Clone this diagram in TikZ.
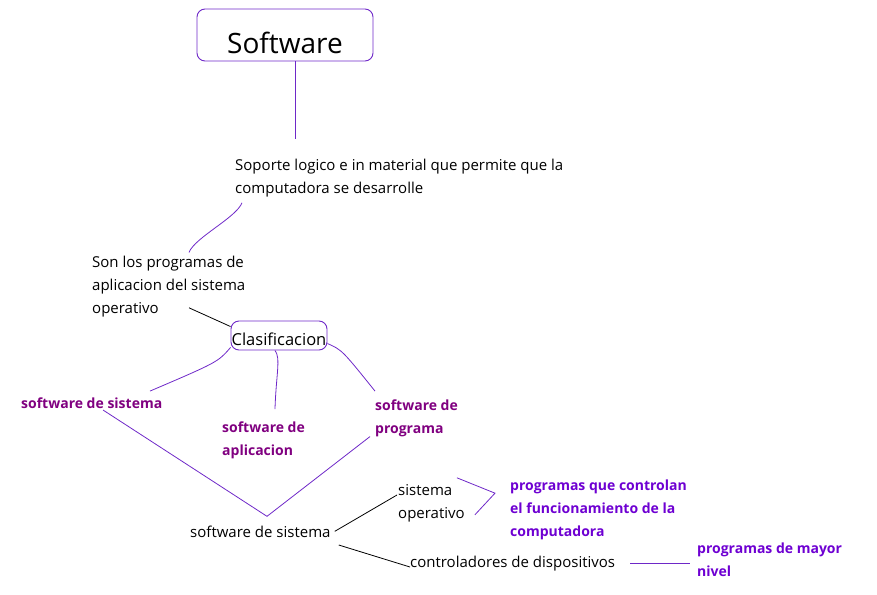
\documentclass[tikz,border=0pt]{standalone}
\usepackage{fontspec}
\setmainfont{Open Sans}
\definecolor{lila}{RGB}{110,40,200}
\definecolor{morado}{RGB}{128,0,128}
\definecolor{violeta}{RGB}{110,0,210}
\begin{document}
\begin{tikzpicture}[x=1pt,y=-1pt,
    caja/.style={draw=lila,line width=0.9pt,rounded corners=8pt,inner sep=0pt},
    texto/.style={anchor=base west,inner sep=0pt,align=left,font=\fontsize{15}{23}\selectfont},
    clase/.style={texto,text=morado,font=\fontsize{14}{23}\selectfont\bfseries},
    nota/.style={texto,text=violeta,font=\fontsize{14}{23}\selectfont\bfseries},
    enlace/.style={draw=lila,line width=0.8pt},
    raya/.style={draw=black,line width=0.8pt}]
        \useasboundingbox (0,0) rectangle (877,594);
        %cajas
        \node[caja,minimum width=176pt,minimum height=52pt,text height=40pt,text depth=2pt,font=\fontsize{28}{28}\selectfont] (sw) at (285,35) {Software};
        \node[caja,minimum width=96pt,minimum height=29pt,text height=21pt,text depth=2pt,font=\fontsize{16.5}{16}\selectfont] (clas) at (279,335.5) {Clasificacion};
        
        %textos (base = ultima linea)
        \node[texto] (soporte) at (235,193) {Soporte logico e in material que permite que la\\computadora se desarrolle};
        \node[texto] (son) at (92,313) {Son los programas de\\aplicacion del sistema\\operativo};
        \node[clase] (sist) at (21,408) {software de sistema};
        \node[clase] (apli) at (222,455) {software de\\aplicacion};
        \node[clase] (prog) at (375,433) {software de\\programa};
        \node[texto] (sis2) at (190,537) {software de sistema};
        \node[texto] (so) at (398,518) {sistema\\operativo};
        \node[texto] (ctrl) at (410,567) {controladores de dispositivos};
        \node[nota] (desc) at (510,536) {programas que controlan\\el funcionamiento de la\\computadora};
        \node[nota] (mayor) at (697,576) {programas de mayor\\nivel};
        
        %lineas
        \draw[enlace] ([xshift=10pt]sw.south) -- ++(0,78);
        \draw[enlace] ([xshift=7pt,yshift=-6pt]soporte.south west) .. controls +(-6,15) and +(6,-15) .. ([xshift=97pt,yshift=3pt]son.north west);
        \draw[raya] ([xshift=97pt,yshift=9pt]son.south west) -- ([yshift=-6pt]clas.north west);
        \draw[enlace] ([yshift=3pt]clas.south west) .. controls (218,362) .. ([xshift=129pt,yshift=6pt]sist.north west);
        \draw[enlace] ([xshift=-4pt]clas.south) .. controls (281,358) and (276,375) .. ([xshift=53pt,yshift=12pt]apli.north west);
        \draw[enlace] ([yshift=-8pt]clas.east) .. controls (342,350) .. ([yshift=8pt]prog.north west);
        
        \coordinate (v) at ([xshift=77pt,yshift=9pt]sis2.north west);
        \draw[enlace] ([xshift=82pt,yshift=-2pt]sist.base west) -- (v) -- ([xshift=-5pt]prog.south west);
        \draw[raya] ([xshift=4pt]sis2.east) -- ([xshift=-1pt,yshift=23pt]so.base west);
        \draw[raya] ([xshift=8pt,yshift=-8pt]sis2.base east) -- (ctrl.base west);
        
        \coordinate (pico) at ([xshift=-15pt,yshift=-14pt]desc.north west);
        \draw[enlace] ([xshift=-8pt,yshift=6pt]so.north east) -- (pico) -- ([xshift=10pt,yshift=7pt]so.south east);
        \draw[enlace] ([xshift=15pt]ctrl.east) -- ([xshift=-7pt]ctrl.east -| mayor.west);
    \end{tikzpicture}
\end{document}
